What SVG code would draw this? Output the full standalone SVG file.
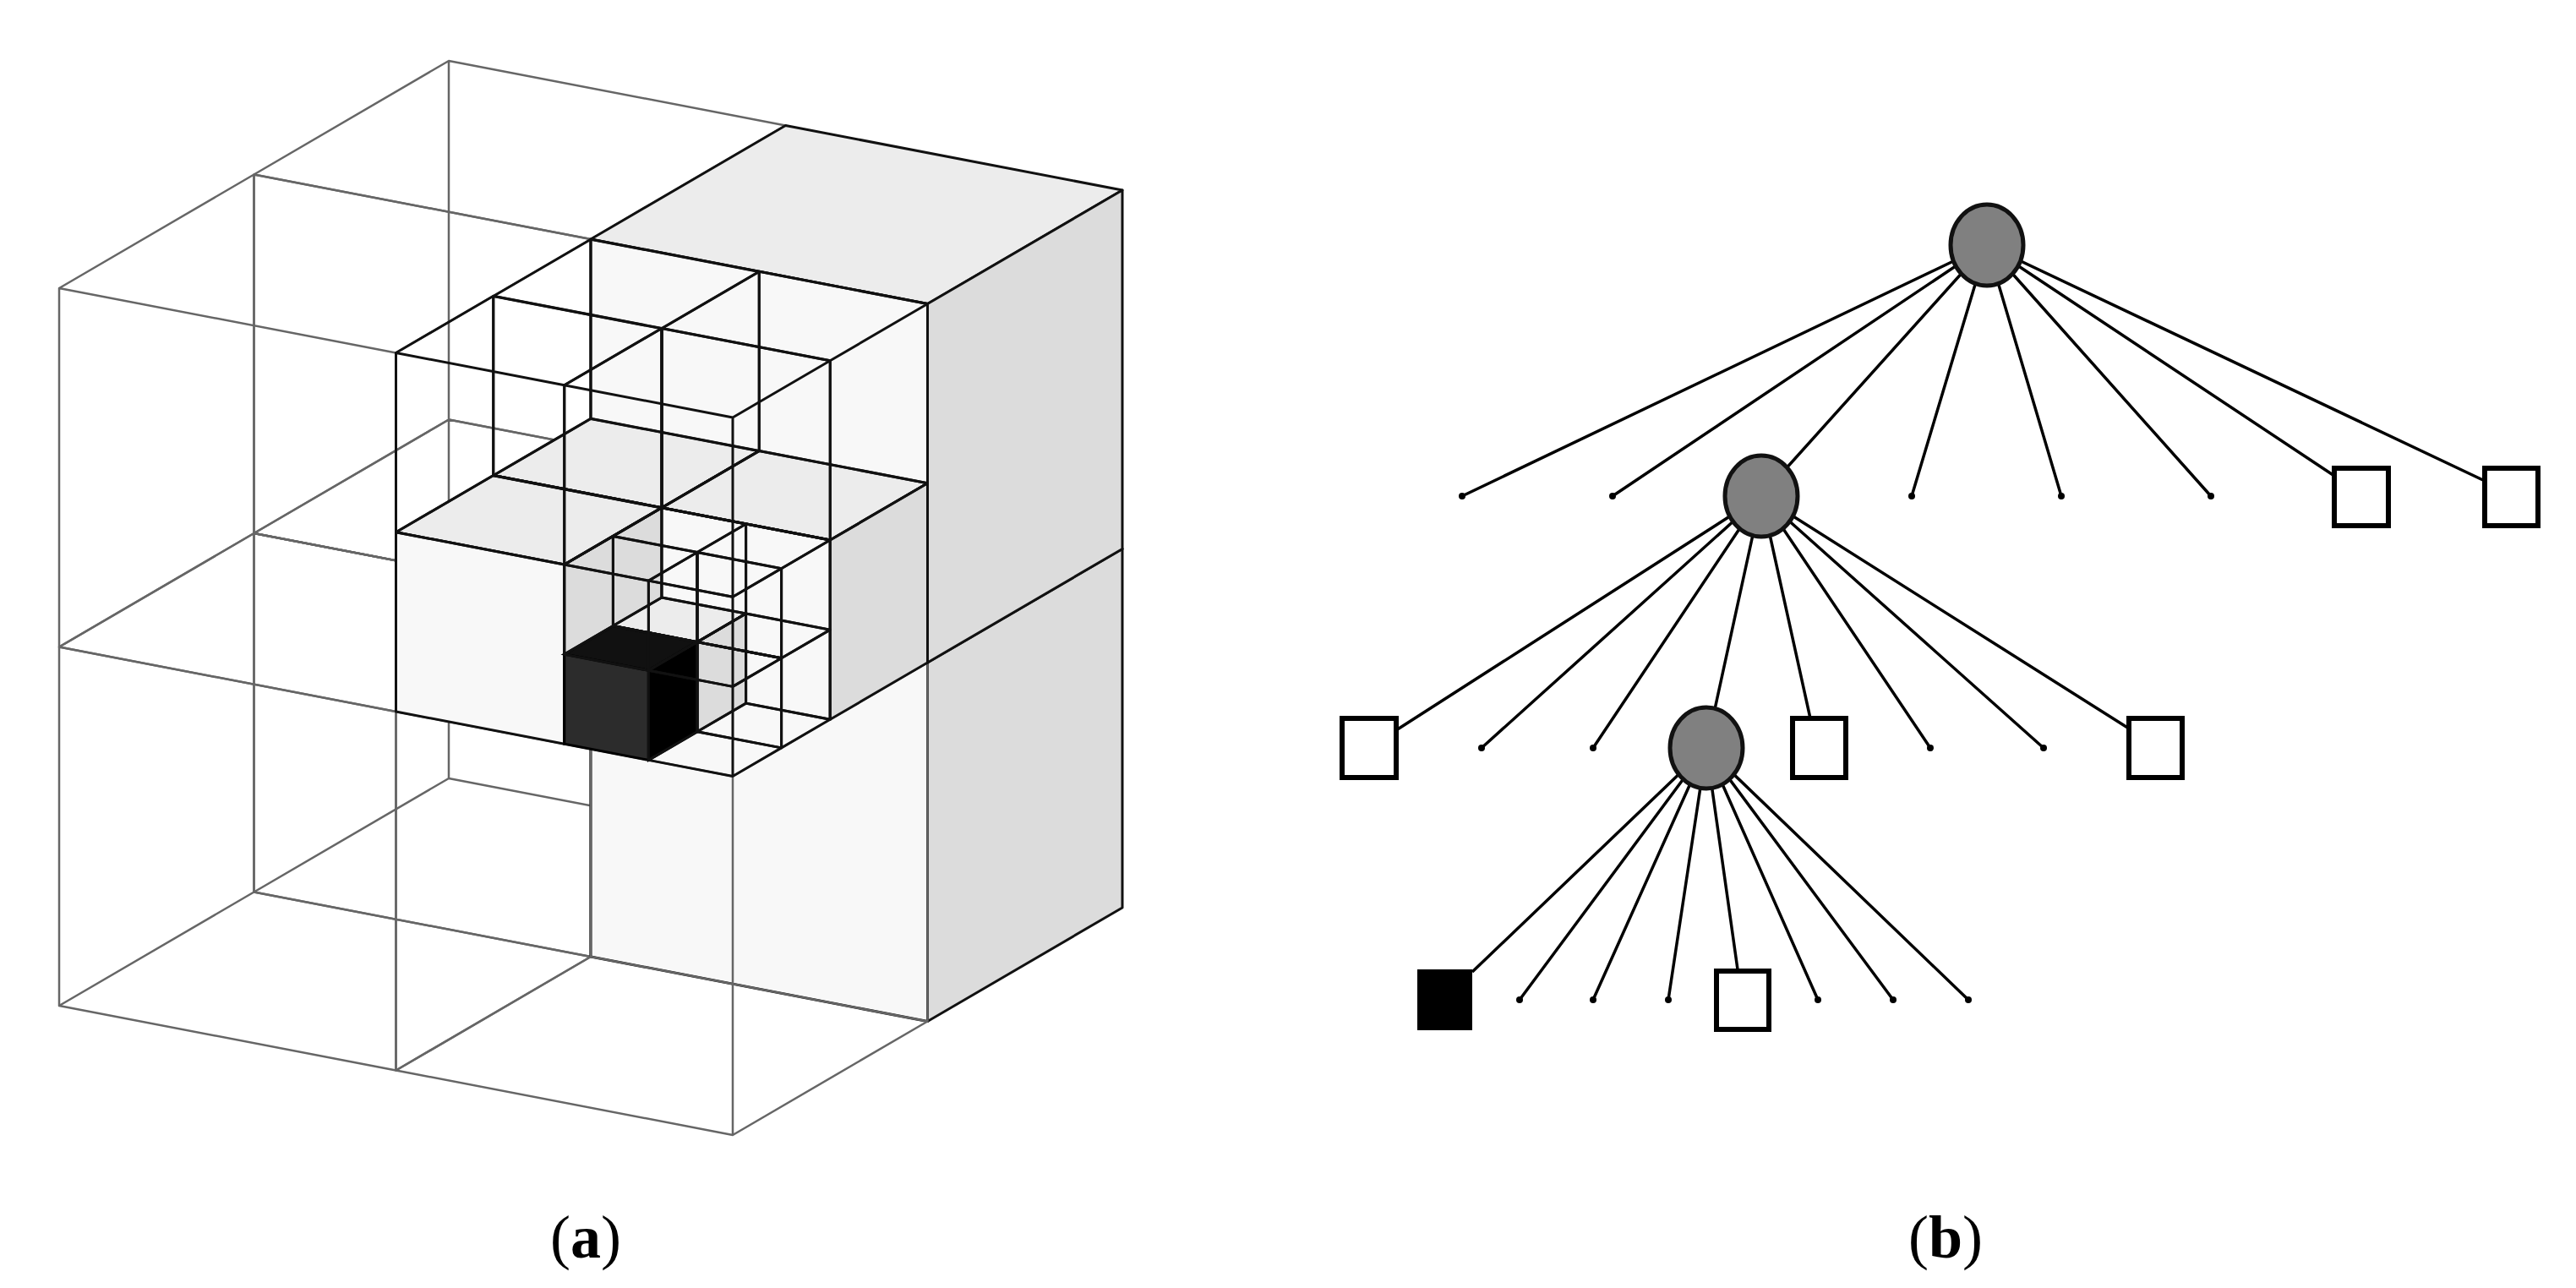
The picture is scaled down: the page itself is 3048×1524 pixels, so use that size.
<svg xmlns="http://www.w3.org/2000/svg" xmlns:xlink="http://www.w3.org/1999/xlink" width="3048" height="1524" viewBox="0 0 3048 1524">
<style>
.w0{fill:none;stroke:#666;stroke-width:2.5;stroke-linejoin:round}
.w1{fill:none;stroke:#111;stroke-width:3;stroke-linejoin:round}
.ft{fill:#ececec;stroke:#111;stroke-width:3;stroke-linejoin:round}
.fl{fill:#f8f8f8;stroke:#111;stroke-width:3;stroke-linejoin:round}
.fr{fill:#dcdcdc;stroke:#111;stroke-width:3;stroke-linejoin:round}
.bt{fill:#111;stroke:#000;stroke-width:3}
.bl{fill:#2c2c2c;stroke:#000;stroke-width:3}
.br{fill:#000;stroke:#000;stroke-width:3}
.e{stroke:#000;stroke-width:3.5;fill:none}
.c{fill:#808080;stroke:#111;stroke-width:5}
.s{fill:#fff;stroke:#000;stroke-width:6}
.d{fill:#000}
.lab{font-family:"Liberation Serif",serif;font-size:72px;fill:#000}
</style>
<defs>
<path id="wp" vector-effect="non-scaling-stroke" d="M0,0 L-797,-153 L-336,-422 L461,-269 Z M0,-849 L-797,-1002 L-336,-1271 L461,-1118 Z M0,0 V-849 M-797,-153 V-1002 M-336,-422 V-1271 M461,-269 V-1118"/>
<path id="tp" vector-effect="non-scaling-stroke" d="M0,-849 L-797,-1002 L-336,-1271 L461,-1118 Z"/>
<path id="lp" vector-effect="non-scaling-stroke" d="M0,0 L-797,-153 L-797,-1002 L0,-849 Z"/>
<path id="rp" vector-effect="non-scaling-stroke" d="M0,0 L461,-269 L461,-1118 L0,-849 Z"/>
<g id="solid"><use xlink:href="#tp" class="ft"/><use xlink:href="#lp" class="fl"/><use xlink:href="#rp" class="fr"/></g>
</defs>
<g id="cube">
<use xlink:href="#wp" class="w0" transform="translate(699,1132) scale(0.5)"/>
<use xlink:href="#wp" class="w0" transform="translate(468.5,1266.5) scale(0.5)"/>
<use xlink:href="#solid" transform="translate(1097.5,1208.5) scale(0.5)"/>
<use xlink:href="#wp" class="w0" transform="translate(699,707.5) scale(0.5)"/>
<use xlink:href="#wp" class="w0" transform="translate(867,1343) scale(0.5)"/>
<use xlink:href="#wp" class="w0" transform="translate(468.5,842) scale(0.5)"/>
<use xlink:href="#solid" transform="translate(1097.5,784) scale(0.5)"/>
<use xlink:href="#solid" transform="translate(783,813) scale(0.25)"/>
<use xlink:href="#solid" transform="translate(667.75,880.25) scale(0.25)"/>
<use xlink:href="#solid" transform="translate(982.25,851.25) scale(0.25)"/>
<use xlink:href="#wp" class="w1" transform="translate(783,601) scale(0.25)"/>
<use xlink:href="#solid" transform="translate(825,865.8) scale(0.125)"/>
<g transform="translate(767.4,899.4) scale(0.125)">
<use xlink:href="#tp" class="bt"/><use xlink:href="#lp" class="bl"/><use xlink:href="#rp" class="br"/>
</g>
<use xlink:href="#wp" class="w1" transform="translate(924.6,884.9) scale(0.125)"/>
<use xlink:href="#wp" class="w1" transform="translate(825,759.7) scale(0.125)"/>
<use xlink:href="#wp" class="w1" transform="translate(867,918.5) scale(0.125)"/>
<use xlink:href="#wp" class="w1" transform="translate(767.4,793.3) scale(0.125)"/>
<use xlink:href="#wp" class="w1" transform="translate(924.6,778.8) scale(0.125)"/>
<use xlink:href="#wp" class="w1" transform="translate(867,812.4) scale(0.125)"/>
<use xlink:href="#wp" class="w1" transform="translate(667.75,668) scale(0.25)"/>
<use xlink:href="#wp" class="w1" transform="translate(982.25,639) scale(0.25)"/>
<use xlink:href="#wp" class="w1" transform="translate(867,706.25) scale(0.25)"/>
</g>
<g id="connectors">
<path class="e" d="M2351,290 L1730,587 M2351,290 L1908,587 M2351,290 L2084,587 M2351,290 L2262,587 M2351,290 L2439,587 M2351,290 L2616,587 M2351,290 L2762,563 M2351,290 L2940,569"/>
<path class="e" d="M2084,587 L1652,864 M2084,587 L1753,885 M2084,587 L1885,885 M2084,587 L2019,885 M2084,587 L2142,850 M2084,587 L2284,885 M2084,587 L2418,885 M2084,587 L2519,862"/>
<path class="e" d="M2019,885 L1742,1150 M2019,885 L1798,1183 M2019,885 L1885,1183 M2019,885 L1974,1183 M2019,885 L2056,1147 M2019,885 L2151,1183 M2019,885 L2240,1183 M2019,885 L2329,1183"/>
</g>
<g id="root"><ellipse class="c" cx="2351" cy="290" rx="43" ry="48"/></g>
<g id="n1"><ellipse class="c" cx="2084" cy="587" rx="43" ry="48"/></g>
<g id="n2"><ellipse class="c" cx="2019" cy="885" rx="43" ry="48"/></g>
<g id="leaves">
<circle class="d" cx="1730" cy="587" r="4"/><circle class="d" cx="1908" cy="587" r="4"/><circle class="d" cx="2262" cy="587" r="4"/><circle class="d" cx="2439" cy="587" r="4"/><circle class="d" cx="2616" cy="587" r="4"/>
<rect class="s" x="2762" y="554" width="64" height="68"/><rect class="s" x="2940" y="554" width="63" height="68"/>
<rect class="s" x="1588" y="850" width="64" height="70"/><circle class="d" cx="1753" cy="885" r="4"/><circle class="d" cx="1885" cy="885" r="4"/>
<rect class="s" x="2121" y="850" width="63" height="70"/><circle class="d" cx="2284" cy="885" r="4"/><circle class="d" cx="2418" cy="885" r="4"/>
<rect class="s" x="2519" y="850" width="63" height="70"/>
<rect x="1677" y="1147" width="65" height="72" fill="#000"/>
<circle class="d" cx="1798" cy="1183" r="4"/><circle class="d" cx="1885" cy="1183" r="4"/><circle class="d" cx="1974" cy="1183" r="4"/>
<rect class="s" x="2031" y="1149" width="62" height="69"/>
<circle class="d" cx="2151" cy="1183" r="4"/><circle class="d" cx="2240" cy="1183" r="4"/><circle class="d" cx="2329" cy="1183" r="4"/>
</g>
<text class="lab" x="693" y="1488" text-anchor="middle">(<tspan font-weight="bold">a</tspan>)</text>
<text class="lab" x="2302" y="1488" text-anchor="middle">(<tspan font-weight="bold">b</tspan>)</text>
</svg>
